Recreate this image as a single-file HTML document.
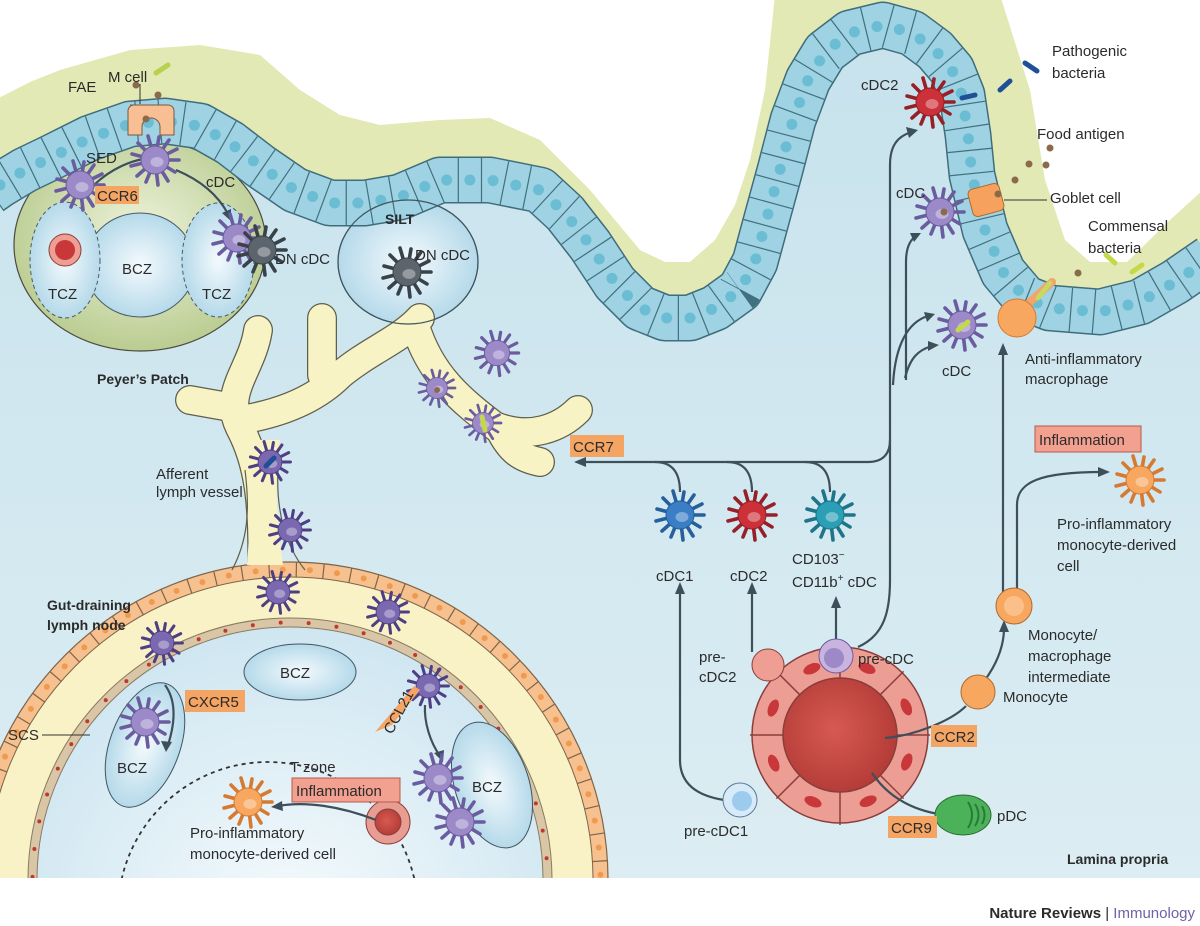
<!DOCTYPE html>
<html><head><meta charset="utf-8"><style>
html,body{margin:0;padding:0;background:#fff;width:1200px;height:926px;overflow:hidden}
svg{display:block}
text{font-family:"Liberation Sans",sans-serif;fill:#2b2b2b;font-size:15px}
.b{font-weight:bold;font-size:14px}
</style></head><body>
<svg width="1200" height="926" viewBox="0 0 1200 926" xmlns="http://www.w3.org/2000/svg">
<defs>
<linearGradient id="bg" x1="0" y1="0" x2="0" y2="1"><stop offset="0" stop-color="#c6e2ec"/><stop offset="1" stop-color="#dcedf3"/></linearGradient>
<radialGradient id="pp" cx=".5" cy=".45" r=".6"><stop offset="0" stop-color="#eef3dc"/><stop offset="1" stop-color="#b5c98a"/></radialGradient>
<radialGradient id="zone" cx=".5" cy=".5" r=".6"><stop offset="0" stop-color="#f4fafd"/><stop offset="1" stop-color="#a9d3e6"/></radialGradient>
<radialGradient id="ln" cx=".5" cy=".6" r=".6"><stop offset="0" stop-color="#f6fbfd"/><stop offset="1" stop-color="#cfe6f1"/></radialGradient>
<radialGradient id="bv" cx=".45" cy=".45" r=".6"><stop offset="0" stop-color="#d75a52"/><stop offset="1" stop-color="#b23a36"/></radialGradient>
<clipPath id="ill"><rect x="0" y="0" width="1200" height="878"/></clipPath>
<polyline id="epi" points="-10,192 0,185 25,170 50,158 90,138 130,124 165,121 200,126 230,143 260,166 295,190 330,203 365,203 400,197 440,180 490,180 540,190 565,213 590,245 615,283 640,308 665,318 690,318 715,308 740,290 755,262 765,225 780,170 793,120 808,80 825,52 850,33 883,25 912,33 935,50 952,70 962,95 968,135 972,175 985,230 1003,272 1025,298 1050,308 1100,312 1140,302 1175,282 1210,258"/>
<g id="dc">
<g stroke-width="3.6" stroke-linecap="round">
<line x1="0" y1="0" x2="24" y2="0"/><line x1="0" y1="0" x2="20" y2="12"/><line x1="0" y1="0" x2="13" y2="21"/><line x1="0" y1="0" x2="3" y2="25"/><line x1="0" y1="0" x2="-9" y2="22"/><line x1="0" y1="0" x2="-18" y2="16"/><line x1="0" y1="0" x2="-24" y2="6"/><line x1="0" y1="0" x2="-23" y2="-6"/><line x1="0" y1="0" x2="-17" y2="-17"/><line x1="0" y1="0" x2="-7" y2="-24"/><line x1="0" y1="0" x2="4" y2="-23"/><line x1="0" y1="0" x2="14" y2="-20"/><line x1="0" y1="0" x2="22" y2="-11"/>
</g>
<circle r="14" stroke-width="1"/>
<ellipse cx="2" cy="2" rx="6.5" ry="5" fill="#fff" fill-opacity=".35" stroke="none"/>
</g>
<g id="seg"><path d="M0,-57 L0,-90" stroke="#8a3e3a" stroke-width="1.5"/></g>
</defs>

<rect width="1200" height="926" fill="#fff"/>
<g clip-path="url(#ill)">
<rect width="1200" height="878" fill="url(#bg)"/>

<polygon fill="#e3e9b4" points="-10,192 0,185 25,170 50,158 90,138 130,124 165,121 200,126 230,143 260,166 295,190 330,203 365,203 400,197 440,180 490,180 540,190 565,213 590,245 615,283 640,308 665,318 690,318 715,308 740,290 755,262 765,225 780,170 793,120 808,80 825,52 850,33 883,25 912,33 935,50 952,70 962,95 968,135 972,175 985,230 1003,272 1025,298 1050,308 1100,312 1140,302 1175,282 1210,258 1210,-10 -10,-10"/>
<polygon fill="#fff" points="-5,-5 -5,100 30,82 60,70 130,50 200,45 260,55 300,90 340,115 380,125 440,120 490,118 540,140 590,190 640,250 665,262 690,262 715,240 735,205 750,160 765,90 775,-5"/>
<polygon fill="#fff" points="1000,-5 1030,90 1045,180 1065,240 1090,262 1127,262 1170,220 1205,188 1205,-5"/>

<ellipse cx="140" cy="245" rx="126" ry="106" fill="url(#pp)" stroke="#4a4a40" stroke-width="1.2"/>
<ellipse cx="140" cy="265" rx="55" ry="52" fill="url(#zone)" stroke="#4a5a66" stroke-width="1"/>
<ellipse cx="65" cy="260" rx="35" ry="58" fill="url(#zone)" stroke="#4a5a66" stroke-dasharray="4 3"/>
<ellipse cx="218" cy="260" rx="36" ry="57" fill="url(#zone)" stroke="#4a5a66" stroke-dasharray="4 3"/>
<ellipse cx="408" cy="262" rx="70" ry="62" fill="url(#zone)" stroke="#3f5560" stroke-width="1.2"/>

<g fill="none" stroke-linejoin="round">
<use href="#epi" stroke="#3f6d7c" stroke-width="47"/>
<use href="#epi" stroke="#9fd2e2" stroke-width="44"/>
<use href="#epi" stroke="#41707f" stroke-width="44" stroke-dasharray="1.2 22"/>
<use href="#epi" stroke="#6bbdd3" stroke-width="11" stroke-dasharray="0 23.2" stroke-dashoffset="11" stroke-linecap="round"/>
</g>

<path d="M130,105 h38 a6,6 0 0 1 6,6 v24 h-14 v-8 a9,9 0 0 0 -18,0 v8 h-14 v-24 a6,6 0 0 1 6,-6z" fill="#f7bf93" stroke="#7a5a40"/>
<line x1="140" y1="84" x2="140" y2="104" stroke="#333"/>
<circle cx="136" cy="85" r="3.5" fill="#8a6a4a"/><circle cx="158" cy="95" r="3.5" fill="#8a6a4a"/><circle cx="146" cy="119" r="3.5" fill="#8a6a4a"/>
<line x1="156" y1="73" x2="168" y2="65" stroke="#b8d050" stroke-width="5" stroke-linecap="round"/>

<g fill="none" stroke-linecap="round" stroke-linejoin="round">
<g stroke="#5f5f4c" stroke-width="30">
<path d="M258,330 C252,370 222,392 240,428 C258,462 264,500 262,580"/>
<path d="M235,408 L190,400"/>
<path d="M240,420 C290,412 320,395 340,375 C370,350 400,340 420,318"/>
<path d="M322,375 L322,318"/>
<path d="M415,325 C430,375 460,400 500,430"/>
<path d="M495,426 C530,440 560,428 578,410"/>
<path d="M500,430 C510,450 520,458 540,462"/>
</g>
<g stroke="#f8f3c4" stroke-width="27.5">
<path d="M258,330 C252,370 222,392 240,428 C258,462 264,500 262,580"/>
<path d="M235,408 L190,400"/>
<path d="M240,420 C290,412 320,395 340,375 C370,350 400,340 420,318"/>
<path d="M322,375 L322,318"/>
<path d="M415,325 C430,375 460,400 500,430"/>
<path d="M495,426 C530,440 560,428 578,410"/>
<path d="M500,430 C510,450 520,458 540,462"/>
</g>
</g>
<ellipse cx="408" cy="262" rx="70" ry="62" fill="none" stroke="#3f5560" stroke-width="1.2"/>

<circle cx="290" cy="880" r="318" fill="#f6c08f" stroke="#7f6448" stroke-width="1.2"/>
<circle cx="290" cy="880" r="310.5" fill="none" stroke="#7f6448" stroke-width="15" stroke-dasharray="1.2 26"/>
<circle cx="290" cy="880" r="310.5" fill="none" stroke="#ef9a4e" stroke-width="6" stroke-dasharray="0 27.2" stroke-dashoffset="13" stroke-linecap="round"/>
<circle cx="290" cy="880" r="303" fill="#f8f2c6" stroke="#7f6448" stroke-width="1"/>
<circle cx="290" cy="880" r="262" fill="#d9c6a6" stroke="#8a7a60" stroke-width="1"/>
<circle cx="290" cy="880" r="257.5" fill="none" stroke="#c0392f" stroke-width="4" stroke-dasharray="0 28" stroke-linecap="round"/>
<circle cx="290" cy="880" r="253" fill="url(#ln)" stroke="#8a7a60" stroke-width="1"/>
<path d="M247,565 C252,500 250,470 245,440 L280,440 C276,470 274,500 283,565 Z" fill="#f8f3c4"/>
<path d="M245,470 C250,510 248,540 232,570" fill="none" stroke="#5f5f4c" stroke-width="1.2"/>
<path d="M278,470 C276,510 285,545 305,570" fill="none" stroke="#5f5f4c" stroke-width="1.2"/>
<ellipse cx="300" cy="672" rx="56" ry="28" fill="url(#zone)" stroke="#3f5560"/>
<ellipse cx="145" cy="745" rx="35" ry="65" transform="rotate(20 145 745)" fill="url(#zone)" stroke="#3f5560"/>
<ellipse cx="492" cy="785" rx="37" ry="65" transform="rotate(-18 492 785)" fill="url(#zone)" stroke="#3f5560"/>
<circle cx="268" cy="912" r="150" fill="none" stroke="#333" stroke-width="1.8" stroke-dasharray="4 4"/>
<circle cx="388" cy="822" r="22" fill="#e89d92" stroke="#8a3e3a"/>
<circle cx="388" cy="822" r="13" fill="url(#bv)" stroke="#8a3e3a"/>

<g transform="translate(840,735)">
<circle r="88" fill="#ec9e94" stroke="#8a3e3a" stroke-width="1.5"/>
<use href="#seg"/><use href="#seg" transform="rotate(45)"/><use href="#seg" transform="rotate(90)"/><use href="#seg" transform="rotate(135)"/><use href="#seg" transform="rotate(180)"/><use href="#seg" transform="rotate(225)"/><use href="#seg" transform="rotate(270)"/><use href="#seg" transform="rotate(315)"/>
<g fill="#c8383a"><ellipse cx="0" cy="-72" rx="9" ry="5" transform="rotate(22)"/><ellipse cx="0" cy="-72" rx="9" ry="5" transform="rotate(67)"/><ellipse cx="0" cy="-72" rx="9" ry="5" transform="rotate(112)"/><ellipse cx="0" cy="-72" rx="9" ry="5" transform="rotate(157)"/><ellipse cx="0" cy="-72" rx="9" ry="5" transform="rotate(202)"/><ellipse cx="0" cy="-72" rx="9" ry="5" transform="rotate(247)"/><ellipse cx="0" cy="-72" rx="9" ry="5" transform="rotate(292)"/><ellipse cx="0" cy="-72" rx="9" ry="5" transform="rotate(337)"/></g>
<circle r="57" fill="url(#bv)" stroke="#8a3e3a" stroke-width="1.5"/>
</g>

<g fill="none" stroke="#3d4f5a" stroke-width="2.2">
<path d="M858,647 C885,635 890,610 890,580 L890,165 C890,145 898,136 912,132"/>
<path d="M890,440 C890,455 882,462 868,462 L582,462"/>
<path d="M680,492 C680,472 672,462 655,462"/>
<path d="M752,492 C752,472 744,462 727,462"/>
<path d="M830,492 C830,472 822,462 805,462"/>
<path d="M906,380 L906,262 C906,248 910,240 916,236"/>
<path d="M893,385 C895,345 908,322 928,316"/>
<path d="M905,378 C910,358 918,350 932,346"/>
<path d="M724,800 C692,795 680,780 680,760 L680,590"/>
<path d="M752,652 L752,590"/>
<path d="M836,640 L836,603"/>
<path d="M985,680 C998,662 1004,645 1004,628"/>
<path d="M885,738 C912,736 950,722 966,706"/>
<path d="M872,773 C890,800 918,812 946,815"/>
<path d="M1003,592 L1003,350"/>
<path d="M1017,592 L1017,505 C1017,482 1040,472 1102,472"/>
<path d="M165,685 C176,700 176,720 168,745"/>
<path d="M425,705 C424,722 430,742 440,756"/>
<path d="M376,820 C340,806 305,801 278,806"/>
<path d="M95,184 C110,170 130,160 150,158"/>
<path d="M176,170 C200,180 218,195 228,214"/>
</g>
<g fill="#3d4f5a">
<polygon points="918,130 906,127 909,138"/>
<polygon points="574,462 586,457 586,467"/>
<polygon points="921,233 910,233 914,242"/>
<polygon points="935,314 924,312 927,322"/>
<polygon points="939,345 928,341 928,351"/>
<polygon points="680,582 675,594 685,594"/>
<polygon points="752,582 747,594 757,594"/>
<polygon points="836,596 831,608 841,608"/>
<polygon points="1004,620 999,632 1009,632"/>
<polygon points="952,815 940,810 940,820"/>
<polygon points="1003,343 998,355 1008,355"/>
<polygon points="1110,472 1098,467 1098,477"/>
<polygon points="166,752 161,741 172,742"/>
<polygon points="443,762 434,753 444,750"/>
<polygon points="271,807 282,801 283,811"/>
<polygon points="156,157 145,152 146,163"/>
<polygon points="231,221 222,213 231,209"/>
</g>

<g fill="#9c8ac8" stroke="#6b5b9f">
<use href="#dc" transform="translate(155,160)"/>
<use href="#dc" transform="translate(80,185)"/>
<use href="#dc" transform="translate(237,238)"/>
<use href="#dc" transform="translate(497,353) scale(.9)"/>
<use href="#dc" transform="translate(437,388) scale(.75)"/>
<use href="#dc" transform="translate(483,423) scale(.75)"/>
<use href="#dc" transform="translate(940,212)"/>
<use href="#dc" transform="translate(962,325)"/>
<use href="#dc" transform="translate(145,722)"/>
<use href="#dc" transform="translate(438,778)"/>
<use href="#dc" transform="translate(460,822)"/>
</g>
<g fill="#7a68b0" stroke="#4e3f85">
<use href="#dc" transform="translate(270,462) scale(.85)"/>
<use href="#dc" transform="translate(290,530) scale(.85)"/>
<use href="#dc" transform="translate(278,592) scale(.85)"/>
<use href="#dc" transform="translate(388,612) scale(.85)"/>
<use href="#dc" transform="translate(162,643) scale(.85)"/>
<use href="#dc" transform="translate(428,686) scale(.85)"/>
</g>
<g fill="#5c656e" stroke="#3a4148">
<use href="#dc" transform="translate(262,250)"/>
<use href="#dc" transform="translate(407,272)"/>
</g>
<g fill="#cc3038" stroke="#962028"><use href="#dc" transform="translate(930,102)"/><use href="#dc" transform="translate(752,515)"/></g>
<g fill="#3a7fc6" stroke="#265f9c"><use href="#dc" transform="translate(680,515)"/></g>
<g fill="#2a9fb6" stroke="#1c7588"><use href="#dc" transform="translate(830,515)"/></g>
<g fill="#f7a760" stroke="#d57a30"><use href="#dc" transform="translate(1140,480)"/><use href="#dc" transform="translate(248,802)"/></g>
<path d="M1030,302 L1052,282" stroke="#f2a46a" stroke-width="8" stroke-linecap="round"/>
<circle cx="1017" cy="318" r="19" fill="#f7a760" stroke="#d57a30"/>
<line x1="1038" y1="298" x2="1050" y2="283" stroke="#c8d860" stroke-width="5" stroke-linecap="round"/>
<rect x="970" y="186" width="32" height="28" rx="5" transform="rotate(-15 986 200)" fill="#f6a25e" stroke="#b06a30"/>
<line x1="1004" y1="200" x2="1047" y2="200" stroke="#333"/>
<g stroke-linecap="round" stroke-width="5">
<line x1="1025" y1="63" x2="1037" y2="71" stroke="#1f4f95"/>
<line x1="1000" y1="90" x2="1010" y2="81" stroke="#1f4f95"/>
<line x1="962" y1="98" x2="975" y2="95" stroke="#1f4f95"/>
<line x1="1106" y1="255" x2="1115" y2="263" stroke="#c5d84a"/>
<line x1="1132" y1="272" x2="1142" y2="265" stroke="#c5d84a"/>
<line x1="958" y1="330" x2="968" y2="322" stroke="#c5d84a"/>
<line x1="482" y1="417" x2="485" y2="430" stroke="#c5d84a"/>
<line x1="266" y1="466" x2="274" y2="458" stroke="#1f4f95"/>
</g>
<g fill="#8a6a4a"><circle cx="1050" cy="148" r="3.5"/><circle cx="1029" cy="164" r="3.5"/><circle cx="1046" cy="165" r="3.5"/><circle cx="1015" cy="180" r="3.5"/><circle cx="998" cy="194" r="3.5"/><circle cx="944" cy="212" r="3.5"/><circle cx="1078" cy="273" r="3.5"/><circle cx="437" cy="390" r="3"/></g>
<circle cx="768" cy="665" r="16" fill="#ee9e92" stroke="#8a3e3a"/>
<circle cx="836" cy="656" r="17" fill="#c9b3df" stroke="#6b5b9f"/><circle cx="834" cy="658" r="10" fill="#9d88c8"/>
<circle cx="740" cy="800" r="17" fill="#d6eaf8" stroke="#5a7a9a"/><circle cx="742" cy="801" r="10" fill="#9ccbee"/>
<circle cx="978" cy="692" r="17" fill="#f7a760" stroke="#b06a30"/>
<circle cx="1014" cy="606" r="18" fill="#f7a760" stroke="#b06a30"/><circle cx="1014" cy="606" r="10" fill="#fbc08a"/>
<ellipse cx="963" cy="815" rx="28" ry="20" fill="#4cb25a" stroke="#2a6a32"/>
<path d="M968,802 q8,13 0,26 M975,804 q7,11 0,22 M982,806 q5,9 0,18" stroke="#2a7a36" stroke-width="2" fill="none"/>
<circle cx="65" cy="250" r="16" fill="#ee9e92" stroke="#8a3e3a"/><circle cx="65" cy="250" r="10" fill="#c8383a"/>

<g fill="#f5a563">
<rect x="95" y="186" width="44" height="18"/>
<rect x="570" y="435" width="54" height="22"/>
<rect x="185" y="690" width="60" height="22"/>
<rect x="931" y="725" width="46" height="22"/>
<rect x="888" y="816" width="49" height="22"/>
<polygon points="375,732 392,725 420,690 414,686"/>
</g>
<rect x="1035" y="426" width="106" height="26" fill="#f2a08f" stroke="#b85a4a"/>
<rect x="292" y="778" width="108" height="24" fill="#f2a08f" stroke="#b85a4a"/>

<text x="97" y="201">CCR6</text>
<text x="573" y="452">CCR7</text>
<text x="188" y="707">CXCR5</text>
<text x="934" y="742">CCR2</text>
<text x="891" y="833">CCR9</text>
<text x="1039" y="445">Inflammation</text>
<text x="296" y="796">Inflammation</text>
<text x="392" y="735" transform="rotate(-62 392 735)">CCL21</text>

<text x="108" y="82">M cell</text>
<text x="68" y="92">FAE</text>
<text x="86" y="163">SED</text>
<text x="206" y="187">cDC</text>
<text x="122" y="274">BCZ</text>
<text x="48" y="299">TCZ</text>
<text x="202" y="299">TCZ</text>
<text x="275" y="264">DN cDC</text>
<text x="97" y="384" class="b">Peyer’s Patch</text>
<text x="385" y="224" class="b">SILT</text>
<text x="415" y="260">DN cDC</text>
<text x="156" y="479">Afferent</text>
<text x="156" y="497">lymph vessel</text>
<text x="47" y="610" class="b">Gut-draining</text>
<text x="47" y="630" class="b">lymph node</text>
<text x="8" y="740">SCS</text>
<line x1="42" y1="735" x2="90" y2="735" stroke="#333"/>
<text x="280" y="678">BCZ</text>
<text x="117" y="773">BCZ</text>
<text x="472" y="792">BCZ</text>
<text x="290" y="772">T zone</text>
<text x="190" y="838">Pro-inflammatory</text>
<text x="190" y="859">monocyte-derived cell</text>

<text x="1052" y="56">Pathogenic</text>
<text x="1052" y="78">bacteria</text>
<text x="1037" y="139">Food antigen</text>
<text x="1050" y="203">Goblet cell</text>
<text x="1088" y="231">Commensal</text>
<text x="1088" y="253">bacteria</text>
<text x="861" y="90">cDC2</text>
<text x="896" y="198">cDC</text>
<text x="942" y="376">cDC</text>
<text x="1025" y="364">Anti-inflammatory</text>
<text x="1025" y="384">macrophage</text>
<text x="1057" y="529">Pro-inflammatory</text>
<text x="1057" y="550">monocyte-derived</text>
<text x="1057" y="571">cell</text>
<text x="656" y="581">cDC1</text>
<text x="730" y="581">cDC2</text>
<text x="792" y="564">CD103<tspan font-size="10" dy="-6">−</tspan></text>
<text x="792" y="587">CD11b<tspan font-size="10" dy="-6">+</tspan><tspan dy="6"> cDC</tspan></text>
<text x="1028" y="640">Monocyte/</text>
<text x="1028" y="661">macrophage</text>
<text x="1028" y="682">intermediate</text>
<text x="1003" y="702">Monocyte</text>
<text x="699" y="662">pre-</text>
<text x="699" y="682">cDC2</text>
<text x="858" y="664">pre-cDC</text>
<text x="684" y="836">pre-cDC1</text>
<text x="997" y="821">pDC</text>
<text x="1067" y="864" class="b">Lamina propria</text>
</g>
<text x="1195" y="918" text-anchor="end" style="font-size:15px"><tspan font-weight="bold" fill="#2b2b2b">Nature Reviews</tspan><tspan fill="#2b2b2b"> | </tspan><tspan fill="#6f62a8">Immunology</tspan></text>
</svg>
</body></html>
